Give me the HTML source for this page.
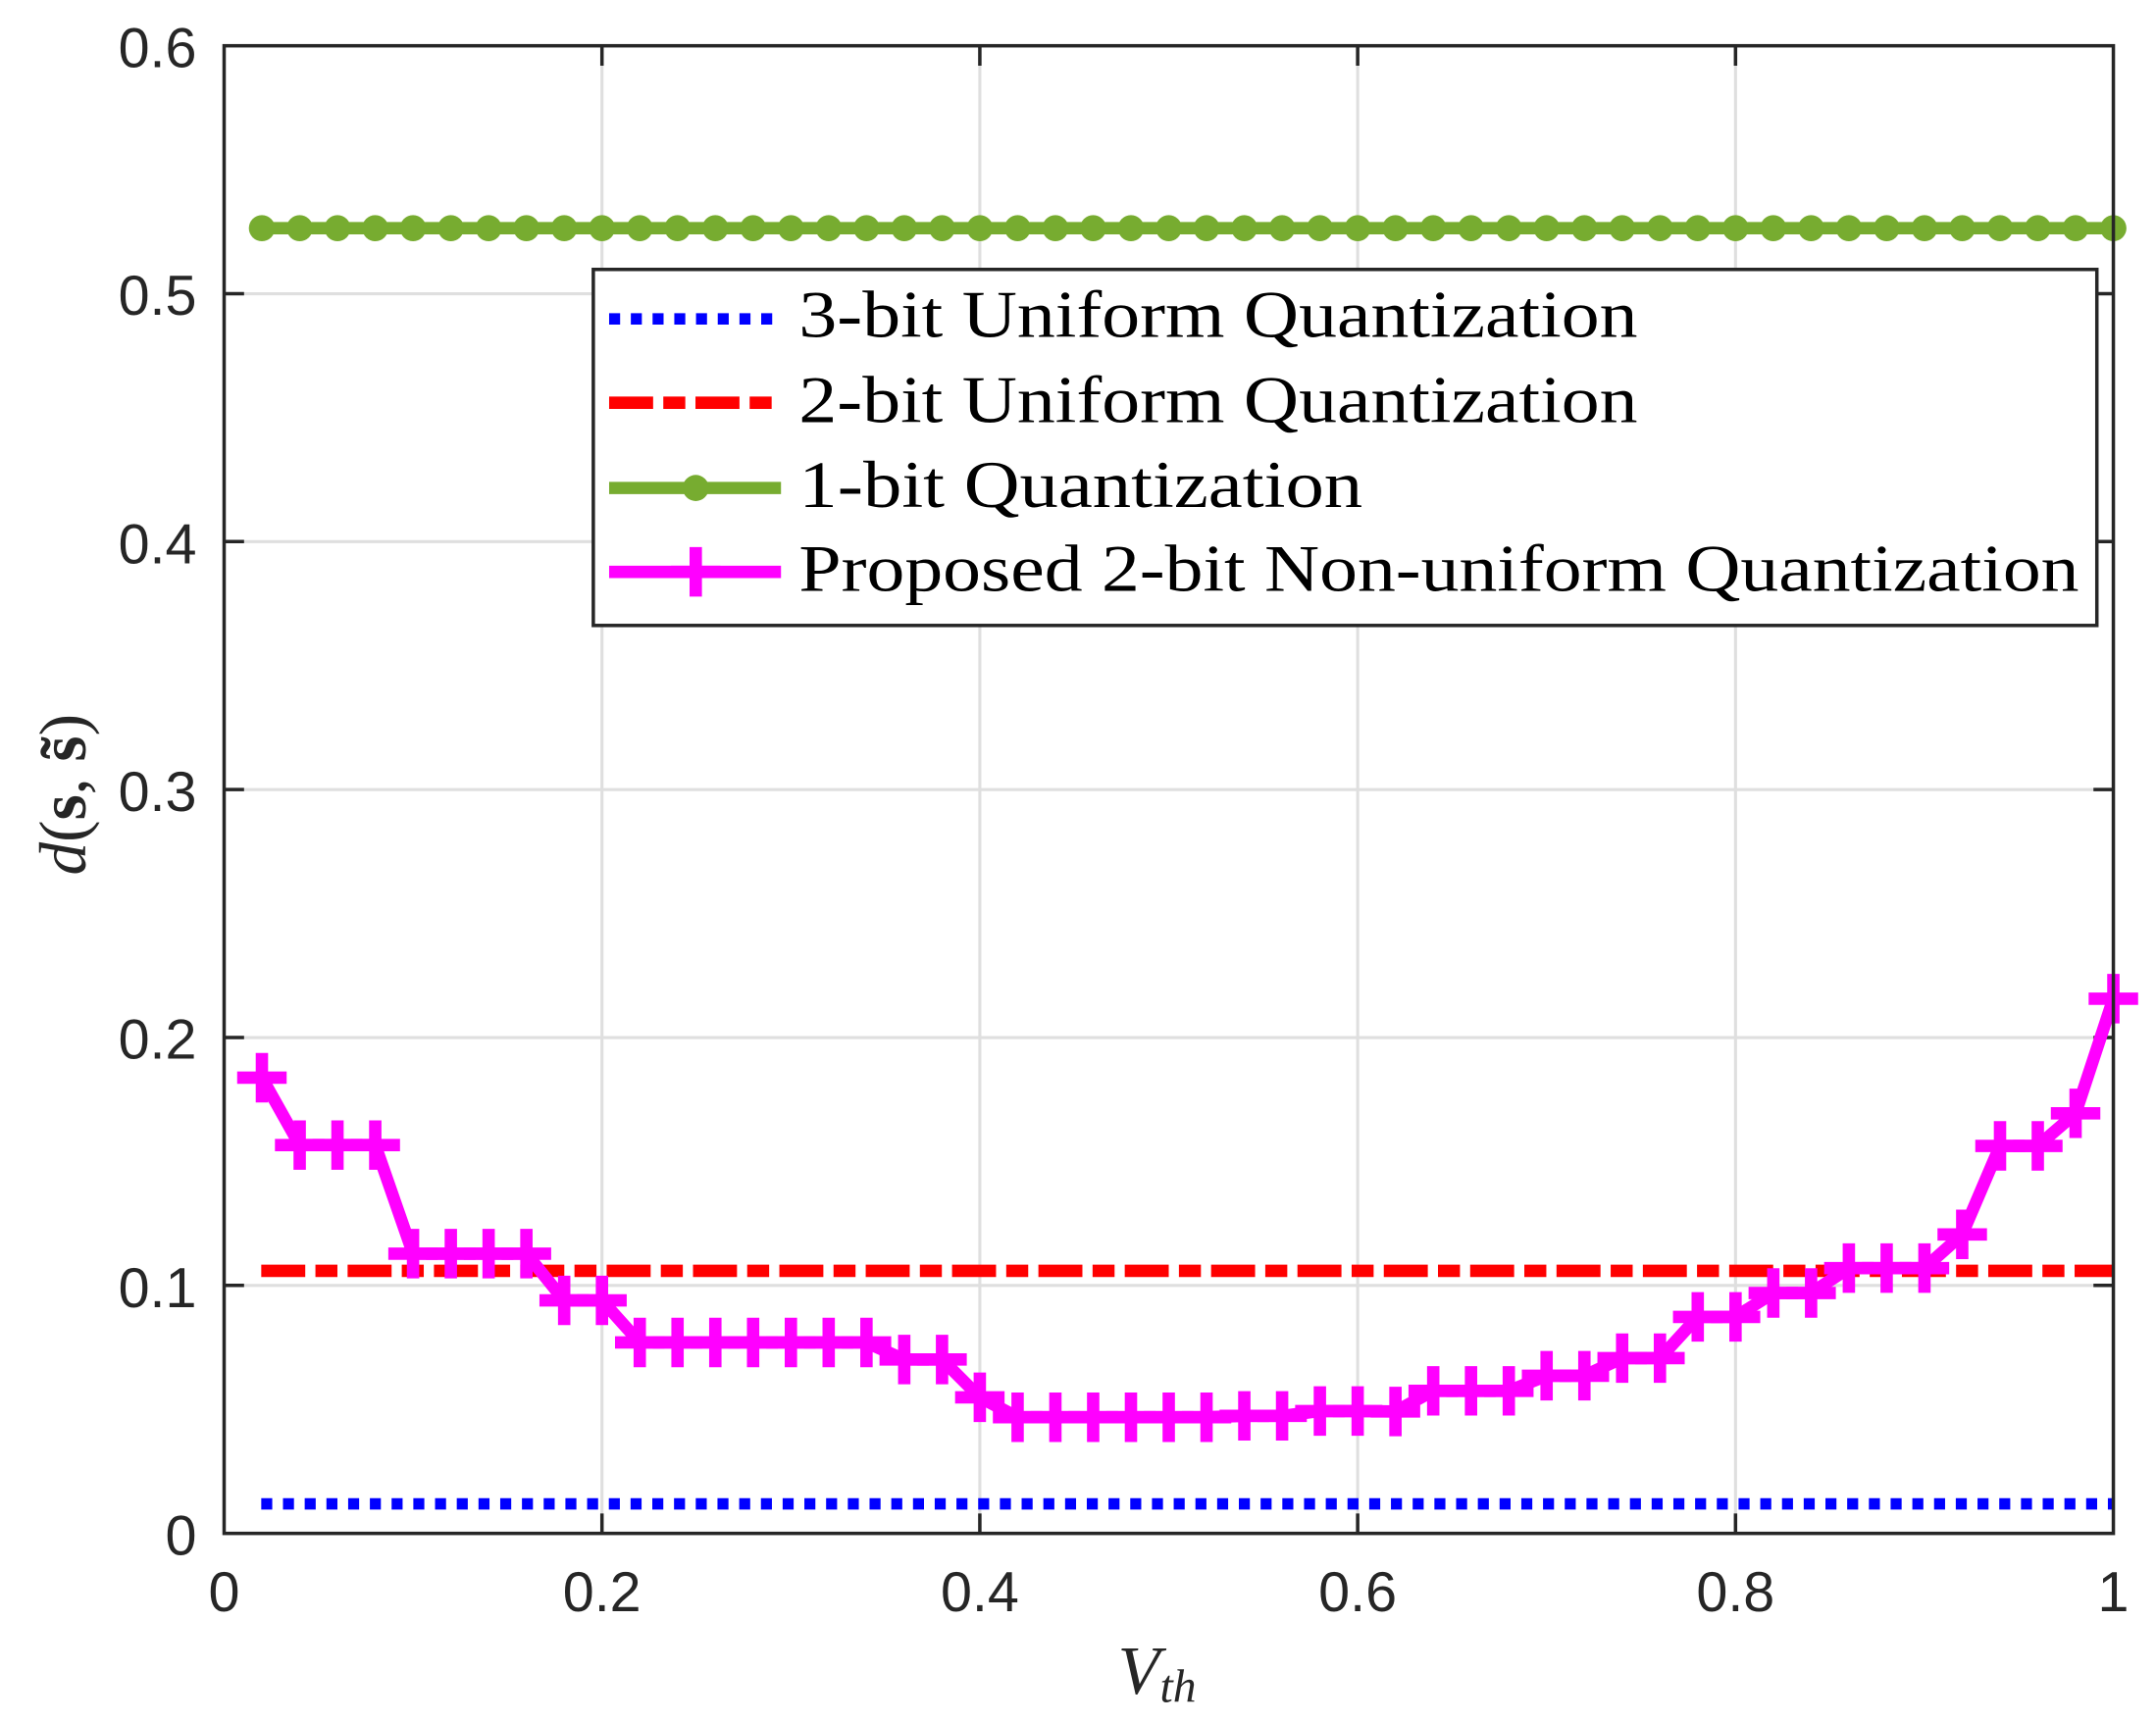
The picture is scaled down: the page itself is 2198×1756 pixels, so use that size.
<!DOCTYPE html>
<html><head><meta charset="utf-8"><style>html,body{margin:0;padding:0;background:#fff}svg{display:block}</style></head>
<body>
<svg xmlns="http://www.w3.org/2000/svg" width="2198" height="1756" viewBox="0 0 1568 1252.7" preserveAspectRatio="none">
<rect width="1568" height="1253" fill="#fff"/>
<g stroke="#dfdfdf" stroke-width="2.2">
<line x1="437.8" y1="33.3" x2="437.8" y2="1115.5"/>
<line x1="712.6" y1="33.3" x2="712.6" y2="1115.5"/>
<line x1="987.4" y1="33.3" x2="987.4" y2="1115.5"/>
<line x1="1262.2" y1="33.3" x2="1262.2" y2="1115.5"/>
<line x1="163" y1="935.1" x2="1537" y2="935.1"/>
<line x1="163" y1="754.8" x2="1537" y2="754.8"/>
<line x1="163" y1="574.4" x2="1537" y2="574.4"/>
<line x1="163" y1="394" x2="1537" y2="394"/>
<line x1="163" y1="213.7" x2="1537" y2="213.7"/>
</g>
<g stroke="#262626" stroke-width="2.5">
<line x1="437.8" y1="1115.5" x2="437.8" y2="1101"/><line x1="437.8" y1="33.3" x2="437.8" y2="47.8"/>
<line x1="712.6" y1="1115.5" x2="712.6" y2="1101"/><line x1="712.6" y1="33.3" x2="712.6" y2="47.8"/>
<line x1="987.4" y1="1115.5" x2="987.4" y2="1101"/><line x1="987.4" y1="33.3" x2="987.4" y2="47.8"/>
<line x1="1262.2" y1="1115.5" x2="1262.2" y2="1101"/><line x1="1262.2" y1="33.3" x2="1262.2" y2="47.8"/>
<line x1="163" y1="935.1" x2="177.5" y2="935.1"/><line x1="1537" y1="935.1" x2="1522.5" y2="935.1"/>
<line x1="163" y1="754.8" x2="177.5" y2="754.8"/><line x1="1537" y1="754.8" x2="1522.5" y2="754.8"/>
<line x1="163" y1="574.4" x2="177.5" y2="574.4"/><line x1="1537" y1="574.4" x2="1522.5" y2="574.4"/>
<line x1="163" y1="394" x2="177.5" y2="394"/><line x1="1537" y1="394" x2="1522.5" y2="394"/>
<line x1="163" y1="213.7" x2="177.5" y2="213.7"/><line x1="1537" y1="213.7" x2="1522.5" y2="213.7"/>
</g>
<!-- 3-bit blue dotted -->
<line x1="190" y1="1094" x2="1537" y2="1094" stroke="#0000ff" stroke-width="8.3" stroke-dasharray="8 7.8"/>
<!-- 2-bit red dash-dot -->
<line x1="190" y1="924.5" x2="1537" y2="924.5" stroke="#ff0000" stroke-width="9" stroke-dasharray="32 7.4 16 7.4"/>
<!-- green -->
<line x1="190.5" y1="166" x2="1537" y2="166" stroke="#77ac30" stroke-width="9"/>
<g fill="#77ac30" id="gdots"></g>
<!-- magenta -->
<polyline id="mag" fill="none" stroke="#ff00ff" stroke-width="9" stroke-linejoin="round" points=""/>
<g id="magm" stroke="#ff00ff" stroke-width="9"></g>
<!-- axes box -->
<rect x="163" y="33.3" width="1374" height="1082.2" fill="none" stroke="#262626" stroke-width="2.5"/>
<!-- tick labels -->
<g font-family="Liberation Sans, sans-serif" font-size="41" fill="#262626" text-anchor="end">
<text x="143" y="1131">0</text>
<text x="143" y="951">0.1</text>
<text x="143" y="770">0.2</text>
<text x="143" y="590">0.3</text>
<text x="143" y="410">0.4</text>
<text x="143" y="229">0.5</text>
<text x="143" y="49">0.6</text>
</g>
<g font-family="Liberation Sans, sans-serif" font-size="41" fill="#262626" text-anchor="middle">
<text x="163" y="1172">0</text>
<text x="437.8" y="1172">0.2</text>
<text x="712.6" y="1172">0.4</text>
<text x="987.4" y="1172">0.6</text>
<text x="1262.2" y="1172">0.8</text>
<text x="1537" y="1172">1</text>
</g>
<text x="813" y="1232" font-family="Liberation Serif, serif" font-style="italic" font-size="50" fill="#262626">V<tspan font-size="34" dy="6">th</tspan></text>
<text transform="translate(62,578) rotate(-90)" text-anchor="middle" font-family="Liberation Serif, serif" font-size="48" fill="#262626"><tspan font-style="italic">d</tspan>(<tspan font-weight="bold">s</tspan>, <tspan font-weight="bold">s̃</tspan>)</text>
<!-- legend -->
<rect x="431.5" y="196" width="1093.5" height="259" fill="#fff" stroke="#262626" stroke-width="2.5"/>
<line x1="443" y1="232" x2="568" y2="232" stroke="#0000ff" stroke-width="8.3" stroke-dasharray="8 7.8"/>
<line x1="443" y1="293" x2="568" y2="293" stroke="#ff0000" stroke-width="9" stroke-dasharray="32 7.4 16 7.4"/>
<line x1="443" y1="355" x2="568" y2="355" stroke="#77ac30" stroke-width="9"/>
<circle cx="506" cy="355" r="9.5" fill="#77ac30"/>
<line x1="443" y1="416" x2="568" y2="416" stroke="#ff00ff" stroke-width="9"/>
<line x1="506" y1="398" x2="506" y2="434" stroke="#ff00ff" stroke-width="9"/>
<line x1="488" y1="416" x2="524" y2="416" stroke="#ff00ff" stroke-width="9"/>
<g font-family="Liberation Serif, serif" font-size="48" fill="#000">
<text x="581" y="245" textLength="610" lengthAdjust="spacingAndGlyphs">3-bit Uniform Quantization</text>
<text x="581" y="307" textLength="610" lengthAdjust="spacingAndGlyphs">2-bit Uniform Quantization</text>
<text x="581" y="369" textLength="410" lengthAdjust="spacingAndGlyphs">1-bit Quantization</text>
<text x="581" y="430" textLength="931" lengthAdjust="spacingAndGlyphs">Proposed 2-bit Non-uniform Quantization</text>
</g>
<script>
(function(){
var ns="http://www.w3.org/2000/svg";
var g=document.getElementById('gdots');
for(var i=1;i<=50;i++){var x=163+1374*i*0.02;var c=document.createElementNS(ns,'circle');c.setAttribute('cx',x);c.setAttribute('cy',166);c.setAttribute('r',9.5);g.appendChild(c);}
var ys=[784,833,833,833,912,912,912,912,946,946,976.6,976.6,976.6,976.6,976.6,976.6,976.6,989,989,1016.5,1031,1031,1031,1031,1031,1031,1030,1030,1026.5,1026.5,1026.8,1011.8,1011.8,1011.8,1000.8,1000.8,988,988,958,958,940.6,940.6,922.5,922.5,922.5,898,833.6,833.6,809.9,726.5];
var pts=[],m=document.getElementById('magm');
for(var i=0;i<50;i++){var x=163+1374*(i+1)*0.02,y=ys[i];pts.push(x+','+y);
var l1=document.createElementNS(ns,'line');l1.setAttribute('x1',x);l1.setAttribute('x2',x);l1.setAttribute('y1',y-18);l1.setAttribute('y2',y+18);m.appendChild(l1);
var l2=document.createElementNS(ns,'line');l2.setAttribute('x1',x-18);l2.setAttribute('x2',x+18);l2.setAttribute('y1',y);l2.setAttribute('y2',y);m.appendChild(l2);}
document.getElementById('mag').setAttribute('points',pts.join(' '));
})();
</script>
</svg>
</body></html>
